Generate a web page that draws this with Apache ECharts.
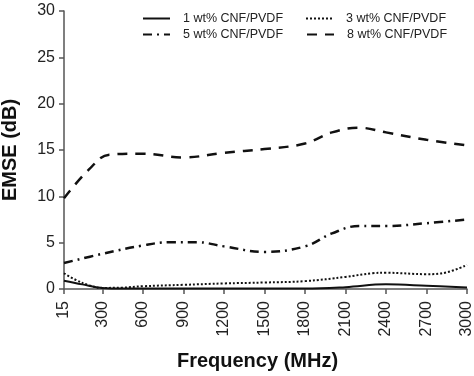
<!DOCTYPE html>
<html>
<head>
<meta charset="utf-8">
<script src="https://cdn.jsdelivr.net/npm/echarts@6/dist/echarts.min.js"></script>
<style>
  html, body { margin: 0; padding: 0; background: #fff; }
  #chart { width: 474px; height: 376px; }
</style>
</head>
<body>
<div id="chart"></div>
<script>
// frequency ticks (MHz)
const freqTicks = [15, 300, 600, 900, 1200, 1500, 1800, 2100, 2400, 2700, 3000];

// EMSE (dB), as [frequency, value]
const cnf1 = [[15, 0.9], [150, 0.5], [300, 0.12], [450, 0.05], [600, 0.05], [900, 0.05], [1200, 0.05],
  [1500, 0.05], [1800, 0.05], [2100, 0.2], [2400, 0.5], [2700, 0.35], [3000, 0.15]];
const cnf3 = [[15, 1.7], [100, 1.0], [200, 0.4], [300, 0.12], [450, 0.15], [600, 0.3], [900, 0.45],
  [1200, 0.6], [1500, 0.7], [1800, 0.85], [2100, 1.3], [2300, 1.7], [2400, 1.75], [2700, 1.6],
  [2850, 1.8], [3000, 2.6]];
const cnf5 = [[15, 2.8], [300, 3.8], [600, 4.7], [800, 5.05], [1000, 5.05], [1200, 4.6], [1500, 4.0],
  [1800, 4.6], [2000, 6.0], [2200, 6.8], [2400, 6.8], [2700, 7.1], [3000, 7.5]];
const cnf8 = [[15, 9.8], [200, 12.9], [350, 14.5], [600, 14.6], [900, 14.2], [1200, 14.7],
  [1500, 15.1], [1800, 15.7], [2000, 16.9], [2200, 17.4], [2400, 16.9], [2700, 16.1], [3000, 15.5]];

const names = ['1 wt% CNF/PVDF', '3 wt% CNF/PVDF', '5 wt% CNF/PVDF', '8 wt% CNF/PVDF'];

const axisColor = '#555';
const font = 'Liberation Sans, Arial, sans-serif';

function line(name, data, width, type) {
  return {
    name: name,
    type: 'line',
    data: data,
    smooth: 0.4,
    symbol: 'none',
    lineStyle: { color: '#111', width: width, type: type },
    itemStyle: { color: '#111' }
  };
}

function legendAt(name, left, top) {
  return {
    data: [name],
    left: left,
    top: top,
    itemWidth: 27,
    itemHeight: 14,
    padding: 0,
    itemStyle: { opacity: 0 },
    textStyle: { fontFamily: font, fontSize: 12.5, color: '#222', padding: [0, 0, 0, 8] }
  };
}

const chart = echarts.init(document.getElementById('chart'));
chart.setOption({
  animation: false,
  backgroundColor: '#fff',
  grid: { left: 64, right: 7, top: 11, bottom: 87, outerBoundsMode: 'none' },
  legend: [
    legendAt(names[0], 142, 12),
    legendAt(names[1], 305, 12),
    legendAt(names[2], 142, 28),
    legendAt(names[3], 306, 28)
  ],
  xAxis: {
    type: 'value',
    min: 15,
    max: 3000,
    name: 'Frequency (MHz)',
    nameLocation: 'middle',
    nameGap: 62,
    nameTextStyle: { fontFamily: font, fontSize: 20, fontWeight: 'bold', color: '#111', padding: [0, 16, 0, 0] },
    axisLine: { lineStyle: { color: axisColor, width: 1.5 } },
    axisTick: { show: true, length: 5, customValues: freqTicks, lineStyle: { color: axisColor, width: 1.5 } },
    axisLabel: {
      customValues: freqTicks, rotate: 90, margin: 12, fontFamily: font, fontSize: 16, color: '#222',
      formatter: v => String(v)
    },
    splitLine: { show: false }
  },
  yAxis: {
    type: 'value',
    min: 0,
    max: 30,
    interval: 5,
    name: 'EMSE (dB)',
    nameLocation: 'middle',
    nameGap: 44,
    nameTextStyle: { fontFamily: font, fontSize: 20, fontWeight: 'bold', color: '#111' },
    axisLine: { show: true, lineStyle: { color: axisColor, width: 1.5 } },
    axisTick: { show: true, length: 5, lineStyle: { color: axisColor, width: 1.5 } },
    axisLabel: { margin: 9, fontFamily: font, fontSize: 16, color: '#222' },
    splitLine: { show: false }
  },
  series: [
    line(names[0], cnf1, 2, 'solid'),
    line(names[1], cnf3, 2, [2, 2]),
    line(names[2], cnf5, 2.5, [9, 5, 2, 5]),
    line(names[3], cnf8, 2.5, [10, 8])
  ]
});
</script>
</body>
</html>
